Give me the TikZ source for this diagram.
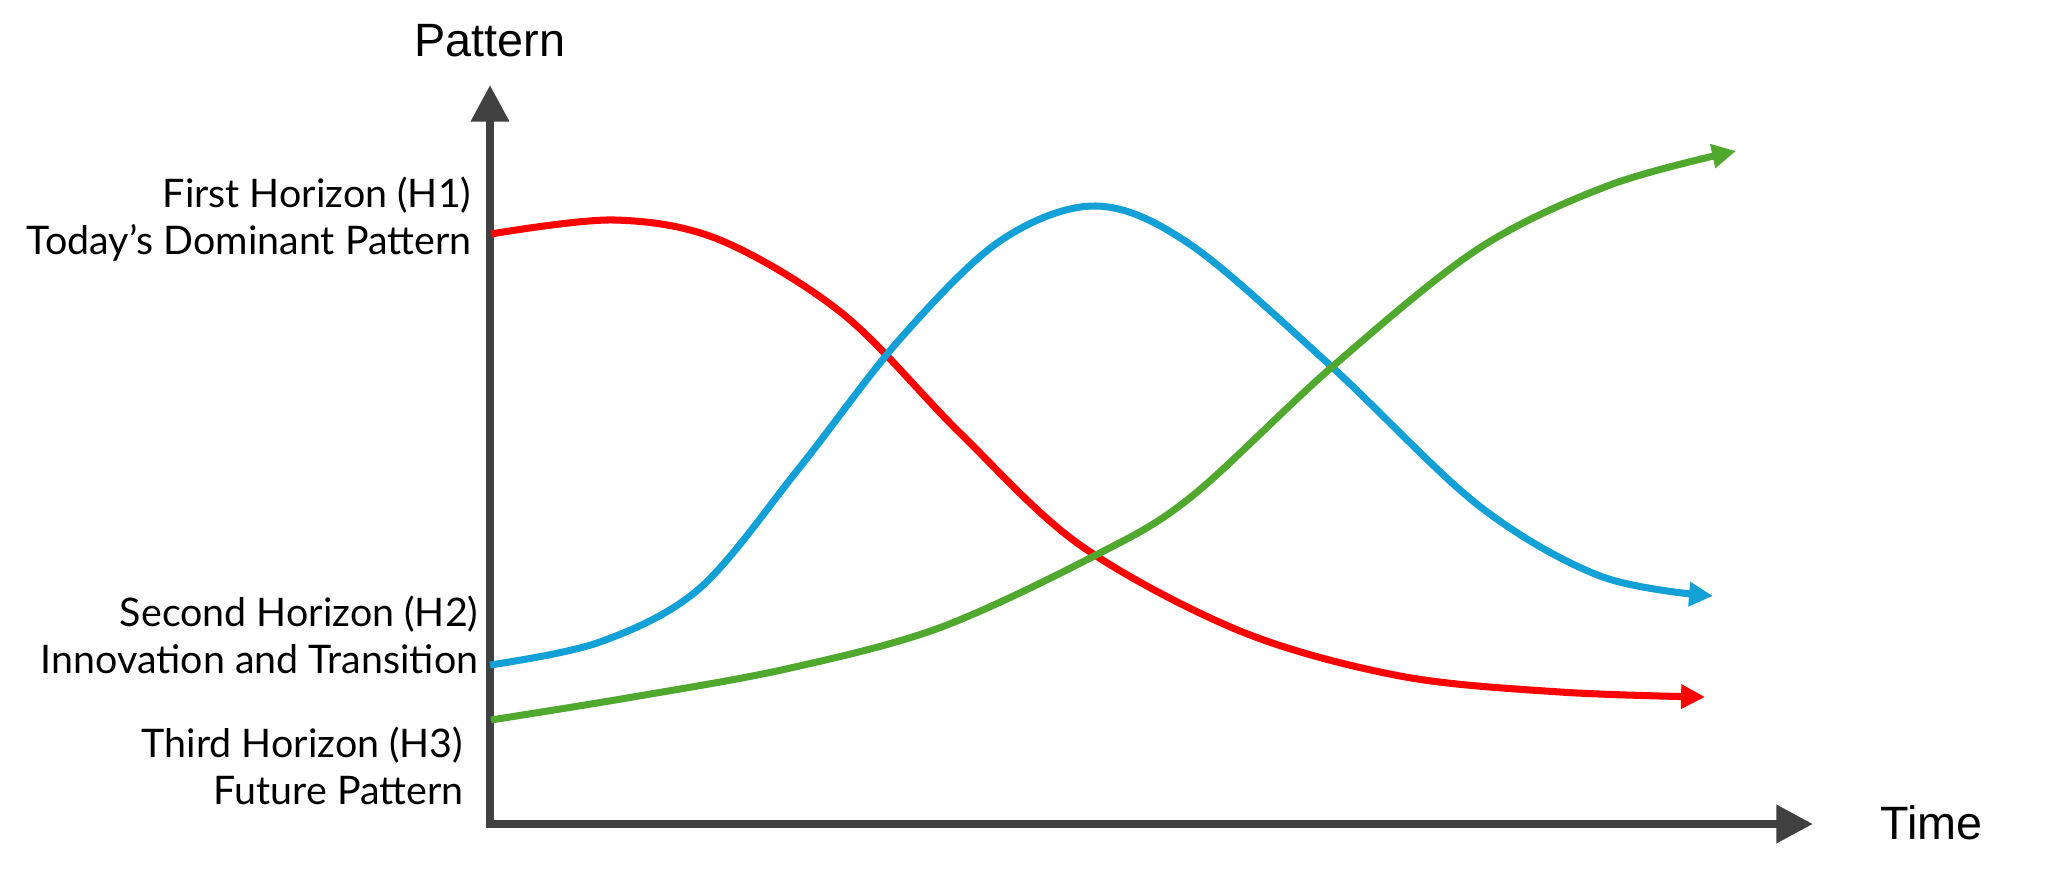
\documentclass[tikz,border=0pt]{standalone}
\usepackage{fontspec}
\setmainfont{Lato}
\newfontfamily\axisfont{Liberation Sans}
\usetikzlibrary{arrows.meta}
\definecolor{hred}{RGB}{255,0,0}
\definecolor{hblue}{RGB}{18,160,215}
\definecolor{hgreen}{RGB}{80,168,46}
\definecolor{axisgray}{RGB}{64,64,64}

\begin{document}
\begin{tikzpicture}
  [x=0.01cm,y=-0.01cm,
   axis/.style={line width=2.3pt,color=axisgray,
     {Triangle[length=10.4pt,width=10.4pt]}-{Triangle[length=10.4pt,width=10.4pt]}},
   curve/.style={line width=2pt,-{Triangle[length=6.8pt,width=6.6pt]}},
   lab/.style={anchor=east,align=right,inner sep=0pt,font=\fontsize{11.2}{13.4}\selectfont},
   axlab/.style={inner sep=0pt,font=\axisfont\fontsize{13.3}{16}\selectfont}]
  \useasboundingbox (0,0) rectangle (2048,882);

  \coordinate (ytip) at (490,85);
  \coordinate (xtip) at (1813,824);
  \draw[axis] (ytip) |- (xtip);

  \node[axlab,anchor=base] (ylab) at (490,57) {Pattern};
  \node[axlab,anchor=base west] (xlab) at (1880,839) {Time};

  \node[lab] (h1lab) at (472,219) {First Horizon (H1)\\Today’s Dominant Pattern};
  \node[lab] (h2lab) at (479,635) {Second Horizon (H2)\\Innovation and Transition};
  \node[lab] (h3lab) at (464,766) {Third Horizon (H3)\\Future Pattern};

  % the three horizons
  \draw[curve,hred] plot[smooth,tension=0.55] coordinates {(491,234) (614,220)
    (720,240) (843,314) (960,433) (1080,545) (1240,631) (1400,676) (1560,692) (1705,697)};
  \draw[curve,hblue] plot[smooth,tension=0.55] coordinates {(490,665) (600,642)
    (700,588) (800,467) (900,339) (1000,241) (1096,206) (1191,245)
    (1332,367) (1478,505) (1600,576) (1713,596)};
  \draw[curve,hgreen] plot[smooth,tension=0.55] coordinates {(491,720) (633,697)
    (786,669) (939,628) (1096,555) (1191,497) (1332,367) (1478,249) (1610,185) (1736,151)};
\end{tikzpicture}
\end{document}
